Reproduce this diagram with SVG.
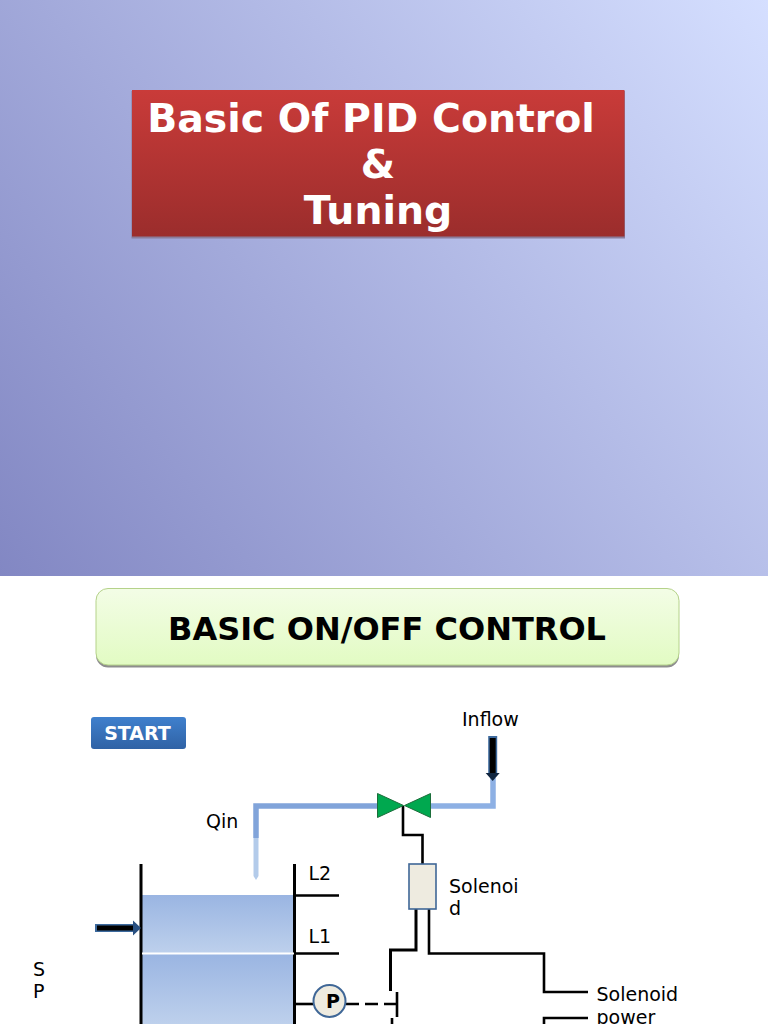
<svg xmlns="http://www.w3.org/2000/svg" width="768" height="1024" viewBox="0 0 768 1024">
<style>
text{font-family:"DejaVu Sans",sans-serif;fill:#000}
.lbl{font-size:19px}
.title{font-size:39.400px;font-weight:700;fill:#fff;text-anchor:middle}
.wire{fill:none;stroke:#000;stroke-width:2.600}
.pipe{fill:none;stroke:#8db0e4;stroke-width:5.500}
.valve{fill:#00a84f;stroke:#1b6d3a;stroke-width:1}
</style>
<defs>
<linearGradient id="bg" gradientUnits="userSpaceOnUse" x1="768" y1="0" x2="0" y2="576"><stop offset="0" stop-color="#d5dfff"/><stop offset="1" stop-color="#8287c3"/></linearGradient>
<linearGradient id="red" x1="0" y1="0" x2="0" y2="1"><stop offset="0" stop-color="#c93b39"/><stop offset="1" stop-color="#9b2d2c"/></linearGradient>
<linearGradient id="green" x1="0" y1="0" x2="0" y2="1"><stop offset="0" stop-color="#f3fde6"/><stop offset="1" stop-color="#e2fbc3"/></linearGradient>
<linearGradient id="blue" x1="0" y1="0" x2="0" y2="1"><stop offset="0" stop-color="#3f80cd"/><stop offset="1" stop-color="#2f62a5"/></linearGradient>
<linearGradient id="water" x1="0" y1="0" x2="0" y2="1"><stop offset="0" stop-color="#9ab5e2"/><stop offset="1" stop-color="#bdd0ec"/></linearGradient>
</defs>
<rect id="background" width="768" height="576" fill="url(#bg)"/>
<rect width="768" height="448" y="576" fill="#fff"/>
<g id="title">
<rect x="131.500" y="91" width="493.500" height="147.500" fill="#8a7d9c"/>
<rect x="132" y="90" width="492.500" height="146.500" fill="url(#red)"/>
<text class="title" x="371" y="132">Basic Of PID Control</text>
<text class="title" x="378" y="178">&amp;</text>
<text class="title" x="378" y="224">Tuning</text>
</g>
<g id="heading">
<rect x="96" y="589.500" width="583" height="78" rx="12" fill="#8e8e8e"/>
<rect x="96" y="588.500" width="583" height="76.500" rx="12" fill="url(#green)" stroke="#b5d28a" stroke-width="1"/>
<text x="387" y="640" font-size="32" font-weight="700" text-anchor="middle">BASIC ON/OFF CONTROL</text>
</g>
<g id="start">
<rect x="91" y="717" width="95" height="32" rx="3" fill="url(#blue)"/>
<text x="137.500" y="739.500" font-size="19" font-weight="700" text-anchor="middle" style="fill:#fff">START</text>
</g>
<g id="tank">
<rect x="142" y="895" width="152" height="58" fill="url(#water)"/>
<rect x="142" y="954" width="152" height="70" fill="url(#water)"/>
<path d="M141 864V1024M294.500 864V1024" fill="none" stroke="#000" stroke-width="3"/>
<path d="M142 953.500H294" stroke="#fff" stroke-width="2"/>
<path d="M294 895.500H339M294 953.500H339" stroke="#000" stroke-width="2.400"/>
</g>
<g id="connectors">
<path d="M378 806H256V838" class="pipe" style="stroke:#81a4da"/>
<path d="M256 838V876" fill="none" stroke="#b3cbea" stroke-width="5"/>
<path d="M253.500 876h5l-2.500 4z" fill="#b3cbea"/>
<path d="M430 806H493V778" class="pipe"/>
<path d="M403 806V835H422.500V864" class="wire"/>
<path d="M416 909V950H390.500V991" class="wire" style="stroke-width:3"/>
<path d="M429 909V953.500H544V992H588" class="wire"/>
<path d="M544 1024V1018H588" class="wire"/>
<path d="M296 1004H314" class="wire"/>
<path d="M346 1004H397" class="wire" stroke-dasharray="13 6"/>
<path d="M397 992V1017" class="wire"/>
<path d="M392 1018V1024" class="wire"/>
<path d="M95 928H134" fill="none" stroke="#3d6a9e" stroke-width="8"/>
<path d="M97 928H134" fill="none" stroke="#000" stroke-width="5"/>
<path d="M133 920.500L141 928L133 935.500Z" fill="#2a5182"/>
<path d="M492.700 736V775" fill="none" stroke="#3d6a9e" stroke-width="9"/>
<path d="M492.700 738V775" fill="none" stroke="#000" stroke-width="6"/>
<path d="M485.700 773H499.700L492.700 781Z" fill="#10253f"/>
</g>
<g id="valve">
<path class="valve" d="M377.500 793.500V817.500L403.500 805.500Z"/>
<path class="valve" d="M430.500 793.500V817.500L404.500 805.500Z"/>
</g>
<g id="solenoid">
<rect x="409" y="864" width="27" height="45" fill="#eeebe0" stroke="#3f6797" stroke-width="1.600"/>
</g>
<g id="pressure">
<circle cx="329.500" cy="1001" r="16" fill="#eeebe0" stroke="#3f6797" stroke-width="2"/>
<text x="333" y="1008" font-size="19" font-weight="700" text-anchor="middle">P</text>
</g>
<g id="labels">
<text class="lbl" x="462" y="726">Inflow</text>
<text class="lbl" x="206" y="828">Qin</text>
<text class="lbl" x="308.500" y="880">L2</text>
<text class="lbl" x="308.500" y="943">L1</text>
<text class="lbl" x="449" y="893">Solenoi</text>
<text class="lbl" x="449" y="915">d</text>
<text class="lbl" x="33" y="976">S</text>
<text class="lbl" x="33" y="998">P</text>
<text class="lbl" x="596.500" y="1001">Solenoid</text>
<text class="lbl" x="596.500" y="1024">power</text>
</g>
</svg>
